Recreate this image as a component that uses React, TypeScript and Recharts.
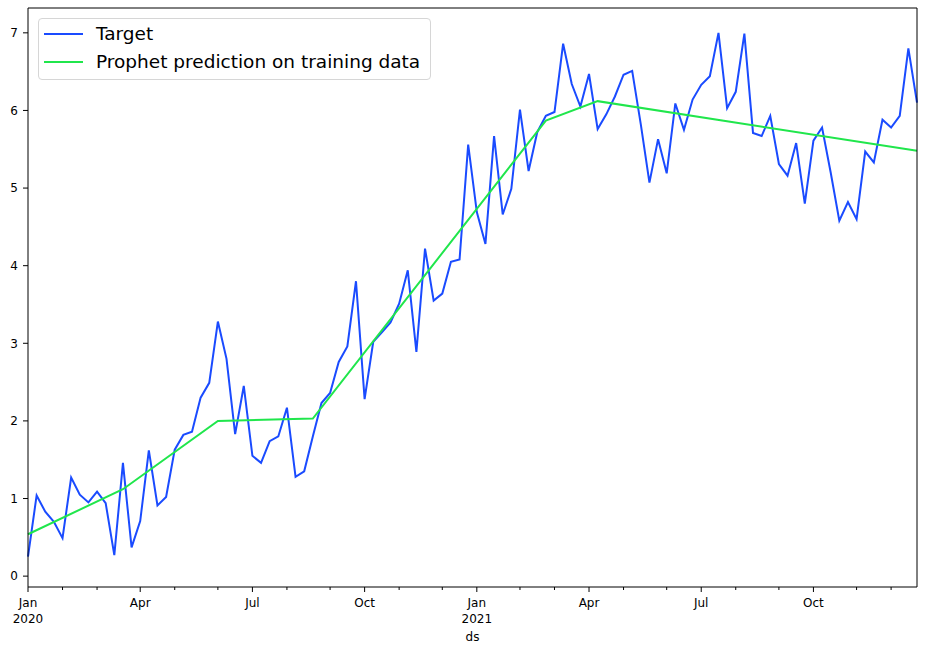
import React from 'react';
import { LineChart, Line, XAxis, YAxis, Legend } from 'recharts';

// weekly target values, Jan 2020 -> Dec 2021 (104 weeks)
const target = [
  0.25, 1.04, 0.83, 0.70, 0.49, 1.27, 1.05, 0.95, 1.09, 0.94,
  0.27, 1.46, 0.37, 0.71, 1.62, 0.91, 1.02, 1.63, 1.82, 1.86,
  2.30, 2.49, 3.28, 2.80, 1.83, 2.45, 1.55, 1.46, 1.74, 1.80,
  2.17, 1.28, 1.35, 1.80, 2.23, 2.36, 2.76, 2.96, 3.80, 2.28,
  3.02, 3.14, 3.27, 3.51, 3.94, 2.89, 4.22, 3.55, 3.64, 4.05,
  4.08, 5.56, 4.69, 4.28, 5.67, 4.66, 4.99, 6.01, 5.22, 5.72,
  5.93, 5.98, 6.86, 6.34, 6.05, 6.47, 5.76, 5.95, 6.18, 6.46,
  6.51, 5.82, 5.07, 5.63, 5.19, 6.09, 5.75, 6.14, 6.33, 6.44,
  7.00, 6.03, 6.24, 6.99, 5.71, 5.67, 5.93, 5.31, 5.16, 5.58,
  4.80, 5.61, 5.78, 5.20, 4.58, 4.82, 4.60, 5.47, 5.33, 5.88,
  5.78, 5.93, 6.80, 6.10,
];

// prophet trend: piecewise linear, given at its changepoints only
const trendWeeks = [0, 11, 22, 33, 60, 66, 103];
const trendValues = [0.54, 1.12, 2.0, 2.03, 5.87, 6.12, 5.48];

// x ticks (week index of each month start)
const majorTicks = [0, 13, 26, 39, 52, 65, 78, 91];
const majorLabels = ['Jan|2020', 'Apr', 'Jul', 'Oct', 'Jan|2021', 'Apr', 'Jul', 'Oct'];
const minorTicks = [4, 8, 17, 22, 30, 35, 43, 48, 57, 61, 69, 74, 82, 87, 96, 100];
const yTicks = [0, 1, 2, 3, 4, 5, 6, 7];

const chartData = target.map((v, i) => {
  const k = trendWeeks.indexOf(i);
  return { week: i, target: v, trend: k >= 0 ? trendValues[k] : null };
});

const FONT = '"DejaVu Sans", sans-serif';
const BLUE = '#1a4bff';
const GREEN = '#20e64c';

const MonthTick = ({ x, y, payload }: any) => {
  const k = majorTicks.indexOf(payload.value);
  const major = k >= 0;
  const lines = major ? majorLabels[k].split('|') : [];
  return (
    <g>
      <line x1={x} x2={x} y1={y} y2={y + (major ? 5 : 3)} stroke="#000" strokeWidth={1} />
      {lines.map((t, j) => (
        <text key={j} x={x} y={y + 20 + j * 16} textAnchor="middle" fontSize={12} fontFamily={FONT} fill="#000">
          {t}
        </text>
      ))}
    </g>
  );
};

const LegendBox = () => (
  <div
    style={{
      position: 'relative',
      width: 393,
      height: 62,
      boxSizing: 'border-box',
      border: '1px solid #d6d6d6',
      borderRadius: 4,
      background: 'rgba(255,255,255,0.85)',
      fontFamily: FONT,
      fontSize: 18.5,
      color: '#000',
    }}
  >
    {[
      { name: 'Target', color: BLUE, top: 15 },
      { name: 'Prophet prediction on training data', color: GREEN, top: 43 },
    ].map((r) => (
      <div key={r.name}>
        <div style={{ position: 'absolute', left: 5, top: r.top - 1, width: 39, height: 2, background: r.color }} />
        <div style={{ position: 'absolute', left: 57, top: r.top - 11, lineHeight: '22px', whiteSpace: 'nowrap' }}>{r.name}</div>
      </div>
    ))}
  </div>
);

export default function App() {
  const allTicks = [...majorTicks, ...minorTicks].sort((a, b) => a - b);
  return (
    <div style={{ position: 'absolute', left: 0, top: 0, width: 926, height: 654, background: '#fff' }}>
      <LineChart width={926} height={654} data={chartData} margin={{ top: 7, right: 8, left: 0, bottom: 0 }}>
        <XAxis
          xAxisId="main"
          dataKey="week"
          type="number"
          domain={[0, 103]}
          ticks={allTicks}
          interval={0}
          tick={<MonthTick />}
          tickLine={false}
          tickSize={0}
          tickMargin={0}
          height={67}
          axisLine={{ stroke: '#000', strokeWidth: 1 }}
          label={{ value: 'ds', position: 'insideBottom', offset: 13, fontSize: 12, fontFamily: FONT, fill: '#000' }}
        />
        <XAxis xAxisId="top" orientation="top" dataKey="week" type="number" domain={[0, 103]} height={1} tick={false} tickLine={false} axisLine={{ stroke: '#000', strokeWidth: 1 }} />
        <YAxis
          yAxisId="main"
          type="number"
          domain={[-0.14, 7.32]}
          allowDataOverflow
          ticks={yTicks}
          interval={0}
          width={28}
          tickSize={5}
          tickMargin={5}
          tickLine={{ stroke: '#000' }}
          axisLine={{ stroke: '#000', strokeWidth: 1 }}
          tick={{ fontSize: 12, fontFamily: FONT, fill: '#000' }}
        />
        <YAxis yAxisId="right" orientation="right" type="number" domain={[-0.14, 7.32]} width={1} tick={false} tickLine={false} axisLine={{ stroke: '#000', strokeWidth: 1 }} />
        <Legend
          layout="vertical"
          align="center"
          verticalAlign="middle"
          content={<LegendBox />}
          wrapperStyle={{ left: 38, top: 18, width: 393, height: 62 }}
        />
        <Line xAxisId="main" yAxisId="main" type="linear" dataKey="target" stroke={BLUE} strokeWidth={2} dot={false} isAnimationActive={false} />
        <Line xAxisId="main" yAxisId="main" type="linear" dataKey="trend" stroke={GREEN} strokeWidth={2} dot={false} connectNulls isAnimationActive={false} />
      </LineChart>
    </div>
  );
}
